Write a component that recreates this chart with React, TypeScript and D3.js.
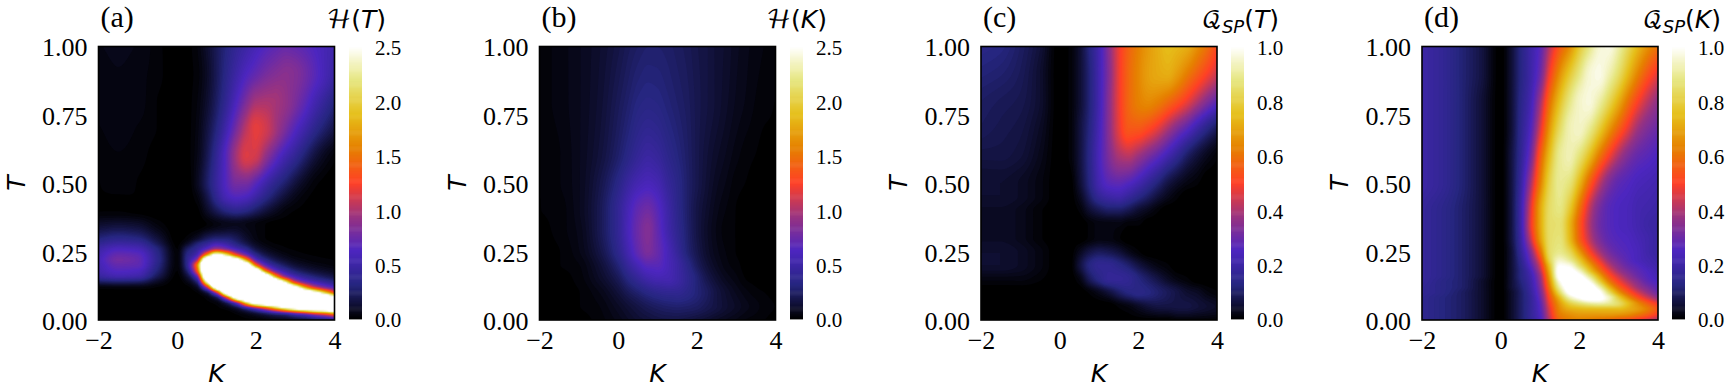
import React, { useEffect, useRef } from "react";
import * as d3 from "d3";

const WIDTH = 1725;
const HEIGHT = 388;

// CMRmap stops
const cmrStops = ["#000000", "#262680", "#4d26bf", "#993380", "#ff4026", "#e68000", "#e6bf1a", "#e6e680", "#ffffff"];

const panelNames = ["(a)", "(b)", "(c)", "(d)"];
const kTicks = [-2, 0, 2, 4];
const tTicks = [0, 0.25, 0.5, 0.75, 1];
const entropyTicks = [0, 0.5, 1, 1.5, 2, 2.5];
const qualityTicks = [0, 0.2, 0.4, 0.6, 0.8, 1];

// columns of every map
const kGrid = [-2, -1.5, -1, -0.5, 0, 0.25, 0.5, 0.75, 1, 1.25, 1.5, 1.75, 2, 2.25, 2.5, 2.75, 3, 3.25, 3.5, 3.75, 4];

// values, rows go from the top of the plot down
const tRowsA = [1, 0.9, 0.8, 0.7, 0.6, 0.5, 0.45, 0.4, 0.35, 0.3, 0.28, 0.26, 0.24, 0.22, 0.2, 0.18, 0.16, 0.14, 0.12, 0.1, 0.08, 0.06, 0.04, 0.02, 0];
const heatA = [
  [.06, .07, .06, .03, 0, .01, .04, .12, .22, .32, .42, .5, .58, .65, .7, .74, .72, .68, .63, .58, .52],
  [.05, .06, .05, .03, 0, .01, .03, .1, .22, .36, .5, .63, .72, .8, .85, .88, .85, .78, .68, .58, .48],
  [.05, .05, .05, .02, 0, .01, .04, .12, .25, .42, .62, .82, .98, 1.0, .98, .92, .82, .7, .56, .44, .32],
  [.04, .05, .04, .02, 0, .01, .05, .16, .32, .54, .8, 1.05, 1.18, 1.12, .98, .82, .66, .52, .38, .27, .18],
  [.03, .04, .03, .01, 0, .01, .06, .2, .42, .68, .98, 1.15, 1.12, .92, .72, .55, .42, .28, .16, .08, .03],
  [.02, .03, .02, .01, 0, 0, .08, .25, .46, .66, .8, .8, .68, .52, .38, .27, .16, .08, .03, .01, 0],
  [.02, .02, .02, .01, 0, 0, .04, .18, .4, .58, .65, .62, .5, .36, .24, .14, .07, .03, .01, 0, 0],
  [.02, .02, .01, 0, 0, 0, .01, .1, .22, .33, .38, .34, .25, .16, .09, .04, .02, .01, 0, 0, 0],
  [.12, .14, .12, .04, 0, 0, 0, .02, .05, .07, .08, .06, .04, .02, .01, .01, 0, 0, 0, 0, 0],
  [.3, .36, .32, .15, 0, .03, .1, .22, .28, .28, .22, .12, .05, .02, .01, .01, .01, 0, 0, 0, 0],
  [.4, .48, .45, .22, .01, .1, .28, .42, .55, .48, .33, .2, .09, .04, .02, .015, .01, .01, .01, .005, 0],
  [.5, .62, .58, .32, .02, .25, .42, .68, .95, .8, .58, .39, .18, .09, .045, .025, .018, .015, .01, .01, .005],
  [.55, .72, .68, .36, .03, .33, .55, 1.5, 2.5, 2, 1.2, .73, .36, .18, .1, .055, .03, .022, .018, .015, .012],
  [.58, .78, .72, .38, .03, .38, .9, 3.2, 3.8, 3.5, 2.85, 1.7, .68, .36, .2, .12, .07, .045, .03, .025, .02],
  [.56, .72, .7, .35, .03, .38, 1.5, 4, 4.6, 4.6, 4, 3.3, 1.5, .68, .39, .24, .145, .1, .07, .05, .035],
  [.54, .65, .62, .3, .02, .28, 1.3, 3.8, 4.6, 4.6, 4.6, 4.3, 3.2, 1.5, .73, .46, .29, .2, .145, .11, .08],
  [.46, .55, .52, .22, .01, .15, .7, 3.4, 4.6, 4.6, 4.6, 4.6, 4.2, 3.2, 1.7, .85, .55, .39, .29, .22, .165],
  [.25, .28, .26, .1, 0, .06, .3, 2.4, 4, 4.6, 4.6, 4.6, 4.6, 4.2, 3.3, 2.2, 1.1, .73, .55, .43, .33],
  [.04, .05, .05, .02, 0, .01, .1, 1, 3, 4, 4.6, 4.6, 4.6, 4.6, 4.3, 3.6, 2.7, 1.7, 1.1, .8, .62],
  [0, 0, 0, 0, 0, 0, .02, .17, 1, 3, 4.2, 4.6, 4.6, 4.6, 4.6, 4.5, 3.9, 3.3, 2.7, 2, 1.3],
  [0, 0, 0, 0, 0, 0, 0, .03, .17, 1, 2.6, 3.5, 4.2, 4.4, 4.6, 4.6, 4.6, 4.3, 3.9, 3.5, 3],
  [0, 0, 0, 0, 0, 0, 0, .01, .03, .17, .6, 1.7, 2.6, 3, 3.4, 3.7, 4, 4.2, 4.4, 4.4, 4.1],
  [0, 0, 0, 0, 0, 0, 0, 0, .01, .03, .1, .3, .6, 1, 1.5, 2, 2.4, 2.7, 3, 3.1, 3.3],
  [0, 0, 0, 0, 0, 0, 0, 0, 0, 0, .02, .05, .1, .17, .25, .32, .5, .65, .9, 1.1, 1.4],
  [0, 0, 0, 0, 0, 0, 0, 0, 0, 0, 0, .01, .01, .02, .04, .05, .08, .1, .14, .17, .22],
];

const tRowsB = [1, 0.8, 0.6, 0.5, 0.4, 0.33, 0.25, 0.2, 0.15, 0.1, 0.05, 0];
const heatB = [
  [.03, .05, .08, .12, .18, .22, .25, .27, .27, .26, .24, .22, .19, .17, .14, .12, .09, .07, .05, .04, .03],
  [.03, .05, .08, .13, .22, .27, .32, .34, .33, .3, .27, .24, .2, .17, .14, .11, .08, .06, .04, .03, .02],
  [.02, .04, .08, .15, .27, .35, .43, .48, .45, .38, .32, .26, .2, .15, .11, .08, .05, .03, .02, .01, .01],
  [.02, .04, .08, .18, .35, .47, .56, .6, .56, .45, .36, .27, .2, .14, .09, .06, .03, .02, .01, .01, 0],
  [.02, .03, .08, .2, .42, .58, .72, .78, .68, .52, .38, .27, .18, .12, .07, .04, .02, .01, 0, 0, 0],
  [.01, .03, .07, .2, .42, .6, .76, .85, .72, .54, .4, .28, .18, .11, .06, .03, .02, .01, 0, 0, 0],
  [.01, .02, .06, .17, .38, .55, .72, .82, .74, .6, .45, .3, .2, .12, .07, .04, .02, .01, 0, 0, 0],
  [.01, .02, .04, .13, .3, .45, .58, .68, .68, .6, .5, .37, .24, .15, .09, .05, .03, .01, 0, 0, 0],
  [.01, .01, .03, .1, .22, .33, .43, .52, .56, .56, .5, .4, .3, .2, .13, .08, .05, .02, .01, 0, 0],
  [.01, .01, .02, .06, .15, .22, .28, .34, .38, .4, .4, .36, .3, .24, .17, .12, .08, .05, .03, .02, .01],
  [0, .01, .02, .04, .1, .14, .18, .22, .25, .27, .28, .27, .25, .21, .17, .13, .1, .07, .05, .03, .02],
  [0, .01, .01, .03, .07, .1, .13, .15, .17, .18, .18, .17, .15, .13, .1, .08, .06, .04, .03, .02, .01],
];

const tRowsC = [1, 0.9, 0.8, 0.7, 0.6, 0.5, 0.45, 0.4, 0.35, 0.3, 0.25, 0.2, 0.15, 0.1, 0.05, 0];
const heatC = [
  [.14, .13, .1, .06, 0, .01, .05, .13, .22, .35, .48, .57, .63, .68, .72, .75, .74, .72, .66, .6, .52],
  [.12, .11, .09, .05, 0, .01, .05, .12, .22, .34, .48, .58, .64, .69, .71, .72, .68, .62, .56, .5, .44],
  [.1, .09, .08, .05, 0, .01, .05, .12, .22, .35, .48, .58, .63, .65, .63, .59, .54, .48, .41, .34, .28],
  [.09, .08, .07, .04, 0, .01, .06, .13, .23, .35, .47, .55, .55, .52, .47, .4, .33, .27, .2, .14, .09],
  [.07, .07, .06, .03, 0, .01, .06, .14, .24, .33, .4, .42, .38, .33, .28, .22, .16, .1, .06, .03, .01],
  [.05, .05, .04, .02, 0, 0, .05, .13, .22, .27, .28, .26, .22, .17, .12, .07, .04, .02, .01, 0, 0],
  [.05, .05, .04, .02, 0, 0, .03, .1, .17, .2, .21, .18, .14, .1, .06, .03, .01, 0, 0, 0, 0],
  [.04, .04, .03, .01, 0, 0, .01, .05, .08, .1, .1, .08, .05, .03, .01, 0, 0, 0, 0, 0, 0],
  [.04, .04, .03, .01, 0, 0, 0, .01, .02, .02, .02, .01, .01, 0, 0, 0, 0, 0, 0, 0, 0],
  [.04, .04, .03, .01, 0, 0, 0, .01, .02, .02, .01, 0, 0, 0, 0, 0, 0, 0, 0, 0, 0],
  [.05, .05, .04, .02, 0, 0, .03, .07, .09, .08, .06, .03, .01, 0, 0, 0, 0, 0, 0, 0, 0],
  [.05, .05, .04, .02, 0, 0, .06, .13, .16, .16, .14, .11, .07, .04, .02, .01, 0, 0, 0, 0, 0],
  [.02, .02, .02, .01, 0, 0, .02, .09, .14, .17, .17, .16, .13, .1, .07, .04, .02, .01, 0, 0, 0],
  [0, 0, 0, 0, 0, 0, 0, .01, .03, .06, .1, .13, .14, .13, .11, .09, .07, .05, .04, .02, .01],
  [0, 0, 0, 0, 0, 0, 0, 0, 0, 0, .01, .02, .04, .06, .07, .07, .07, .07, .06, .05, .04],
  [0, 0, 0, 0, 0, 0, 0, 0, 0, 0, 0, 0, 0, 0, 0, 0, .01, .01, .01, .01, .01],
];

const tRowsD = [1, 0.9, 0.8, 0.7, 0.6, 0.5, 0.4, 0.35, 0.3, 0.25, 0.22, 0.2, 0.18, 0.16, 0.14, 0.12, 0.1, 0.08, 0.06, 0.04, 0.02, 0];
const heatD = [
  [.2, .17, .12, .07, 0, .05, .13, .2, .27, .42, .55, .65, .78, .88, .96, .98, .92, .83, .74, .66, .6],
  [.2, .17, .12, .07, 0, .05, .13, .2, .3, .5, .66, .78, .88, .96, .98, .93, .85, .74, .63, .54, .47],
  [.2, .17, .12, .06, 0, .05, .14, .22, .38, .6, .76, .88, .95, .97, .92, .83, .72, .6, .5, .42, .36],
  [.2, .17, .12, .06, 0, .05, .15, .25, .45, .68, .84, .93, .95, .9, .8, .68, .57, .47, .38, .33, .3],
  [.2, .17, .12, .06, 0, .06, .16, .3, .55, .76, .9, .93, .87, .76, .62, .5, .4, .33, .29, .27, .25],
  [.2, .17, .12, .06, 0, .06, .18, .38, .62, .82, .9, .87, .74, .57, .43, .33, .28, .26, .24, .23, .22],
  [.18, .15, .11, .06, 0, .06, .2, .45, .7, .85, .88, .78, .6, .43, .32, .27, .25, .24, .22, .21, .2],
  [.18, .15, .11, .06, 0, .06, .2, .46, .7, .85, .86, .74, .56, .41, .31, .27, .25, .24, .22, .2, .19],
  [.18, .15, .11, .06, 0, .06, .19, .42, .68, .85, .87, .75, .57, .43, .33, .28, .26, .25, .23, .21, .19],
  [.18, .15, .11, .06, 0, .05, .17, .33, .58, .85, .89, .83, .68, .52, .4, .32, .28, .26, .24, .21, .19],
  [.18, .15, .11, .06, 0, .05, .15, .29, .5, .83, .95, .9, .78, .62, .48, .37, .31, .27, .24, .22, .2],
  [.18, .15, .11, .06, 0, .05, .14, .26, .45, .78, 1.0, .98, .85, .7, .55, .42, .34, .29, .26, .23, .21],
  [.18, .15, .11, .06, 0, .05, .13, .23, .41, .74, 1.03, 1.03, .95, .78, .62, .48, .38, .32, .28, .25, .22],
  [.18, .15, .11, .06, 0, .05, .13, .21, .37, .7, 1.03, 1.06, 1.03, .9, .72, .55, .44, .36, .3, .26, .23],
  [.18, .14, .11, .05, 0, .05, .12, .2, .35, .66, .98, 1.08, 1.08, 1.0, .82, .63, .5, .41, .34, .28, .25],
  [.17, .14, .11, .05, 0, .05, .11, .19, .33, .62, .92, 1.06, 1.08, 1.06, .94, .74, .58, .47, .38, .32, .27],
  [.17, .14, .1, .05, 0, .04, .1, .18, .31, .57, .84, 1.02, 1.07, 1.07, 1.02, .86, .68, .55, .45, .37, .3],
  [.16, .13, .1, .05, 0, .04, .1, .17, .29, .53, .74, .92, 1.0, 1.05, 1.03, .95, .8, .66, .54, .45, .37],
  [.16, .13, .1, .05, 0, .04, .1, .17, .27, .5, .68, .8, .86, .9, .92, .9, .85, .75, .65, .56, .48],
  [.16, .13, .1, .05, 0, .04, .1, .17, .26, .47, .65, .72, .74, .75, .75, .75, .75, .72, .68, .62, .54],
  [.16, .13, .1, .05, 0, .04, .1, .17, .25, .45, .62, .66, .68, .68, .68, .68, .67, .65, .61, .56, .49],
  [.16, .13, .1, .05, 0, .04, .1, .16, .24, .42, .58, .62, .63, .62, .6, .58, .55, .52, .48, .43, .38],
];

// where the panels sit, in page pixels
const panelBoxes = [
  { left: 98.5, right: 334.5, barLeft: 349, barRight: 362, titleEnd: 386 },
  { left: 539.5, right: 775.5, barLeft: 790, barRight: 803, titleEnd: 827 },
  { left: 981, right: 1217, barLeft: 1231, barRight: 1244, titleEnd: 1279 },
  { left: 1422, right: 1658, barLeft: 1672, barRight: 1685, titleEnd: 1721 },
];
const plotTop = 46.5;
const plotBottom = 320;

const panels = [
  { rows: tRowsA, values: heatA, max: 2.5, ticks: entropyTicks },
  { rows: tRowsB, values: heatB, max: 2.5, ticks: entropyTicks },
  { rows: tRowsC, values: heatC, max: 1, ticks: qualityTicks },
  { rows: tRowsD, values: heatD, max: 1, ticks: qualityTicks },
];

const serif = "'Liberation Serif', serif";
const mathFont = "'DejaVu Sans', sans-serif";
const scriptFont = "'DejaVu Math TeX Gyre', 'DejaVu Serif', 'DejaVu Sans', serif";

// monotone cubic through the read values, only used to draw them smoothly
function smoothAt(xs: number[], ys: number[], targets: number[]) {
  const n = xs.length;
  const d = d3.range(n - 1).map(i => (ys[i + 1] - ys[i]) / (xs[i + 1] - xs[i]));
  const m = xs.map((_, i) => {
    if (i === 0) return d[0];
    if (i === n - 1) return d[n - 2];
    if (d[i - 1] * d[i] <= 0) return 0;
    const h0 = xs[i] - xs[i - 1];
    const h1 = xs[i + 1] - xs[i];
    return (3 * (h0 + h1)) / ((2 * h1 + h0) / d[i - 1] + (h1 + 2 * h0) / d[i]);
  });
  const find = d3.bisector(v => v).right;
  return targets.map(x => {
    const i = Math.max(0, Math.min(n - 2, find(xs, x) - 1));
    const h = xs[i + 1] - xs[i];
    const t = (x - xs[i]) / h;
    const t2 = t * t;
    const t3 = t2 * t;
    return (2 * t3 - 3 * t2 + 1) * ys[i] + (t3 - 2 * t2 + t) * h * m[i] + (-2 * t3 + 3 * t2) * ys[i + 1] + (t3 - t2) * h * m[i + 1];
  });
}

function drawPanel(svg: any, index: number) {
  const box = panelBoxes[index];
  const panel = panels[index];

  const x = d3.scaleLinear().domain([-2, 4]).range([box.left, box.right]);
  const y = d3.scaleLinear().domain([0, 1]).range([plotBottom, plotTop]);
  const color = d3.scaleLinear<string>()
    .domain(cmrStops.map((_, i) => (i / (cmrStops.length - 1)) * panel.max))
    .range(cmrStops)
    .interpolate(d3.interpolateRgb)
    .clamp(true);

  // sample the read values on a finer raster for the contours
  const nx = 118;
  const ny = 137;
  const plotW = box.right - box.left;
  const plotH = plotBottom - plotTop;
  const sampleK = d3.range(nx).map(i => x.invert(box.left + ((i + 0.5) * plotW) / nx));
  const sampleT = d3.range(ny).map(j => y.invert(plotTop + ((j + 0.5) * plotH) / ny));

  const rowsAsc = panel.rows.slice().reverse();
  const valuesAsc = panel.values.slice().reverse();
  const alongK = valuesAsc.map(row => smoothAt(kGrid, row, sampleK));
  const raster = new Array(nx * ny);
  sampleK.forEach((_, i) => {
    const col = smoothAt(rowsAsc, alongK.map(r => r[i]), sampleT);
    col.forEach((v, j) => {
      raster[j * nx + i] = Math.max(0, Math.min(panel.max * 1.01, v));
    });
  });

  const levels = d3.range(1, 121).map(i => (i / 120) * panel.max);
  const contours = d3.contours().size([nx, ny]).smooth(true).thresholds(levels)(raster);
  const path = d3.geoPath();

  svg.append("rect")
    .attr("x", box.left).attr("y", plotTop)
    .attr("width", plotW).attr("height", plotH)
    .attr("fill", color(0));

  svg.append("g")
    .attr("transform", `translate(${box.left},${plotTop}) scale(${plotW / nx},${plotH / ny})`)
    .selectAll("path")
    .data(contours)
    .join("path")
    .attr("d", path as any)
    .attr("fill", (d: any) => color(d.value));

  svg.append("rect")
    .attr("x", box.left).attr("y", plotTop)
    .attr("width", plotW).attr("height", plotH)
    .attr("fill", "none")
    .attr("stroke", "#000")
    .attr("stroke-width", 1.6);

  // axes, the ticks have no marks in the original
  const xAxis = svg.append("g")
    .attr("transform", `translate(0,${plotBottom})`)
    .call(d3.axisBottom(x).tickValues(kTicks).tickSize(0).tickPadding(11).tickFormat(d3.format("d") as any));
  const yAxis = svg.append("g")
    .attr("transform", `translate(${box.left},0)`)
    .call(d3.axisLeft(y).tickValues(tTicks).tickSize(0).tickPadding(11).tickFormat(d3.format(".2f") as any));
  yAxis.selectAll("text").attr("dy", "0.36em");
  [xAxis, yAxis].forEach(a => {
    a.select(".domain").remove();
    a.selectAll("text").style("font-family", serif).style("font-size", "26px").attr("fill", "#000");
  });

  svg.append("text")
    .attr("x", (box.left + box.right) / 2)
    .attr("y", 382)
    .attr("text-anchor", "middle")
    .style("font-family", mathFont)
    .style("font-style", "italic")
    .style("font-size", "25px")
    .text("K");

  svg.append("text")
    .attr("transform", `translate(${box.left - 74},183) rotate(-90)`)
    .attr("text-anchor", "middle")
    .style("font-family", mathFont)
    .style("font-style", "italic")
    .style("font-size", "25px")
    .text("T");

  svg.append("text")
    .attr("x", box.left + 2)
    .attr("y", 27)
    .style("font-family", serif)
    .style("font-size", "30px")
    .text(panelNames[index]);

  // colorbar
  const barY = d3.scaleLinear().domain([0, panel.max]).range([319, 47]);
  const steps = d3.range(256).map(i => (i / 255) * panel.max);
  svg.append("g")
    .selectAll("rect")
    .data(steps)
    .join("rect")
    .attr("x", box.barLeft)
    .attr("width", box.barRight - box.barLeft)
    .attr("y", (d: number) => barY(d) - 1.2)
    .attr("height", 1.6)
    .attr("fill", (d: number) => color(d));

  const barAxis = svg.append("g")
    .attr("transform", `translate(${box.barRight},0)`)
    .call(d3.axisRight(barY).tickValues(panel.ticks).tickSize(0).tickPadding(13).tickFormat(d3.format(".1f") as any));
  barAxis.select(".domain").remove();
  barAxis.selectAll("text").attr("dy", "0.38em").style("font-family", serif).style("font-size", "21px").attr("fill", "#000");

  // colorbar title
  const title = svg.append("text")
    .attr("x", box.titleEnd)
    .attr("y", 28)
    .attr("text-anchor", "end")
    .style("font-family", mathFont)
    .style("font-size", "25px");
  const variable = index % 2 === 0 ? "T" : "K";
  if (index < 2) {
    title.append("tspan").style("font-family", scriptFont).text("ℋ");
    title.append("tspan").text("(");
  } else {
    title.append("tspan").style("font-family", scriptFont).style("font-size", "24px").text("𝒬");
    title.append("tspan").attr("dy", 5).style("font-style", "italic").style("font-size", "18px").text("SP");
    title.append("tspan").attr("dy", -5).text("(");
  }
  title.append("tspan").style("font-style", "italic").text(variable);
  title.append("tspan").text(")");
}

export default function App() {
  const svgRef = useRef<SVGSVGElement>(null);

  useEffect(() => {
    const svg = d3.select(svgRef.current);
    svg.selectAll("*").remove();
    panels.forEach((_, i) => drawPanel(svg, i));
  }, []);

  return (
    <svg
      ref={svgRef}
      width={WIDTH}
      height={HEIGHT}
      style={{ position: "absolute", left: 0, top: 0, display: "block", background: "#fff" }}
    />
  );
}
